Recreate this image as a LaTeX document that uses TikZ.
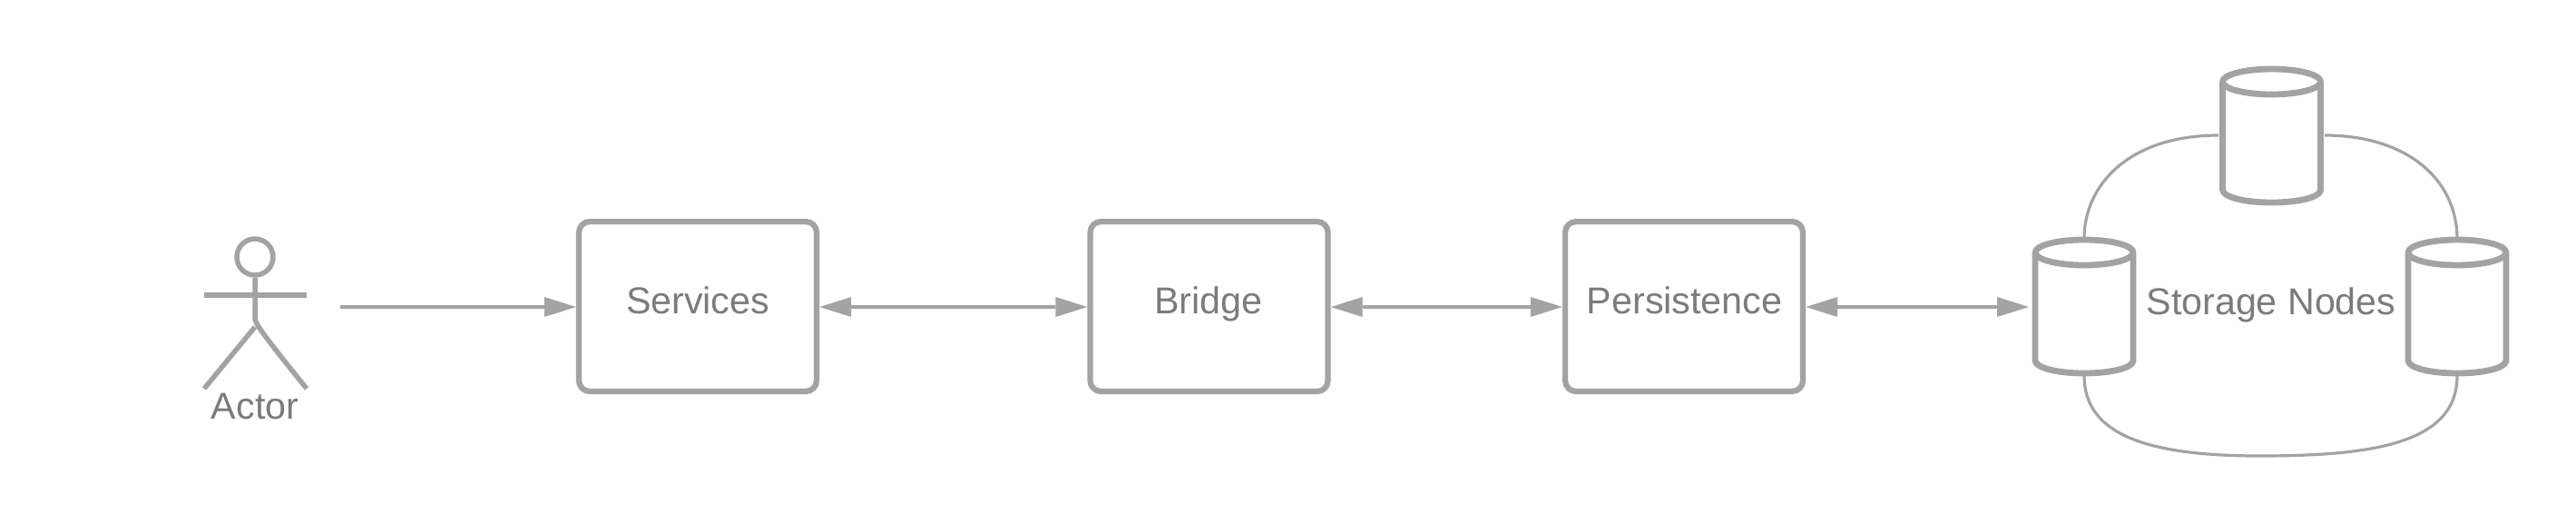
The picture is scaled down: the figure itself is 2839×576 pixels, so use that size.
\documentclass[tikz,border=0pt]{standalone}
\usepackage{fontspec}
\setmainfont{Liberation Sans}
\usetikzlibrary{arrows.meta}
\definecolor{ln}{HTML}{A3A3A3}
\definecolor{tx}{HTML}{7B7B7B}
\tikzset{
  x=1pt,y=-1pt,
  label text/.style={text=tx,font=\fontsize{41.2}{44}\selectfont,inner sep=0pt,anchor=base},
  boxnode/.style={draw=ln,line width=6.3pt,rounded corners=12pt,minimum width=262pt,minimum height=187pt,inner sep=0pt},
  cylbox/.style={minimum width=114pt,minimum height=152pt,inner sep=0pt,outer sep=0pt},
  cylline/.style={draw=ln,line width=6.8pt,line join=round},
  flow/.style={draw=ln,line width=4.7pt,-{Triangle[length=35pt,width=22pt,fill=ln,line width=0pt]}},
  biflow/.style={draw=ln,line width=4.7pt,{Triangle[length=35pt,width=22pt,fill=ln,line width=0pt]}-{Triangle[length=35pt,width=22pt,fill=ln,line width=0pt]}},
  link/.style={draw=ln,line width=3.2pt},
  stick/.style={draw=ln,line width=5.5pt}
}
\newcommand{\cylbody}[1]{%
  \begin{scope}[shift={(#1.center)}]
    \draw[cylline] (-54,-60) -- (-54,59) .. controls (-54,67) and (-30,73) .. (0,73) .. controls (30,73) and (54,67) .. (54,59) -- (54,-60);
    \draw[cylline] (0,-60) ellipse [x radius=54pt,y radius=14pt];
  \end{scope}}
\begin{document}
\begin{tikzpicture}
\useasboundingbox (0,0) rectangle (2839,576);
% actor
\node[circle,draw=ln,line width=5.5pt,minimum size=40pt,inner sep=0pt] (head) at (281,283) {};
\coordinate (armL) at (225,325);
\coordinate (armR) at (338,325);
\coordinate (footL) at (225,428);
\coordinate (footR) at (338,428);
\coordinate (hip) at (281,360);
\draw[stick] (head.south) -- (281,350) .. controls (281,355) and (283,360) .. (footR);
\draw[stick] (armL) -- (armR);
\draw[stick] (hip) -- (footL);
\node[label text] (actor) at (281,461) {Actor};
% boxes
\node[boxnode] (services) at (769,337.5) {};
\node[boxnode] (bridge) at (1332.5,337.5) {};
\node[boxnode] (persist) at (1856,337.5) {};
\node[label text] (tservices) at (769,345) {Services};
\node[label text] (tbridge) at (1332,345) {Bridge};
\node[label text] (tpersist) at (1856.5,345) {Persistence};
% cylinders
\node[cylbox] (ctop) at (2503.5,150) {};
\node[cylbox] (cleft) at (2297,338) {};
\node[cylbox] (cright) at (2708,338) {};
\cylbody{ctop}
\cylbody{cleft}
\cylbody{cright}
\node[label text] (tstorage) at (2503,346) {Storage Nodes};
% connectors
\coordinate (start) at (375,338);
\draw[flow] (start) -- (services.west |- start);
\draw[biflow] (services.east |- start) -- (bridge.west |- start);
\draw[biflow] (bridge.east |- start) -- (persist.west |- start);
\draw[biflow,shorten >=4pt] (persist.east |- start) -- (cleft.west |- start);
\coordinate (tl) at (2445,149);
\coordinate (tr) at (2562,149);
\draw[link] (tl) .. controls (2345,149) and (2297,205) .. (cleft.north);
\draw[link] (tr) .. controls (2650,149) and (2707,195) .. (cright.north);
\draw[link] (cleft.south) .. controls (2297,480) and (2370,502) .. (2490,502) .. controls (2610,502) and (2708,490) .. (cright.south);
\end{tikzpicture}
\end{document}
